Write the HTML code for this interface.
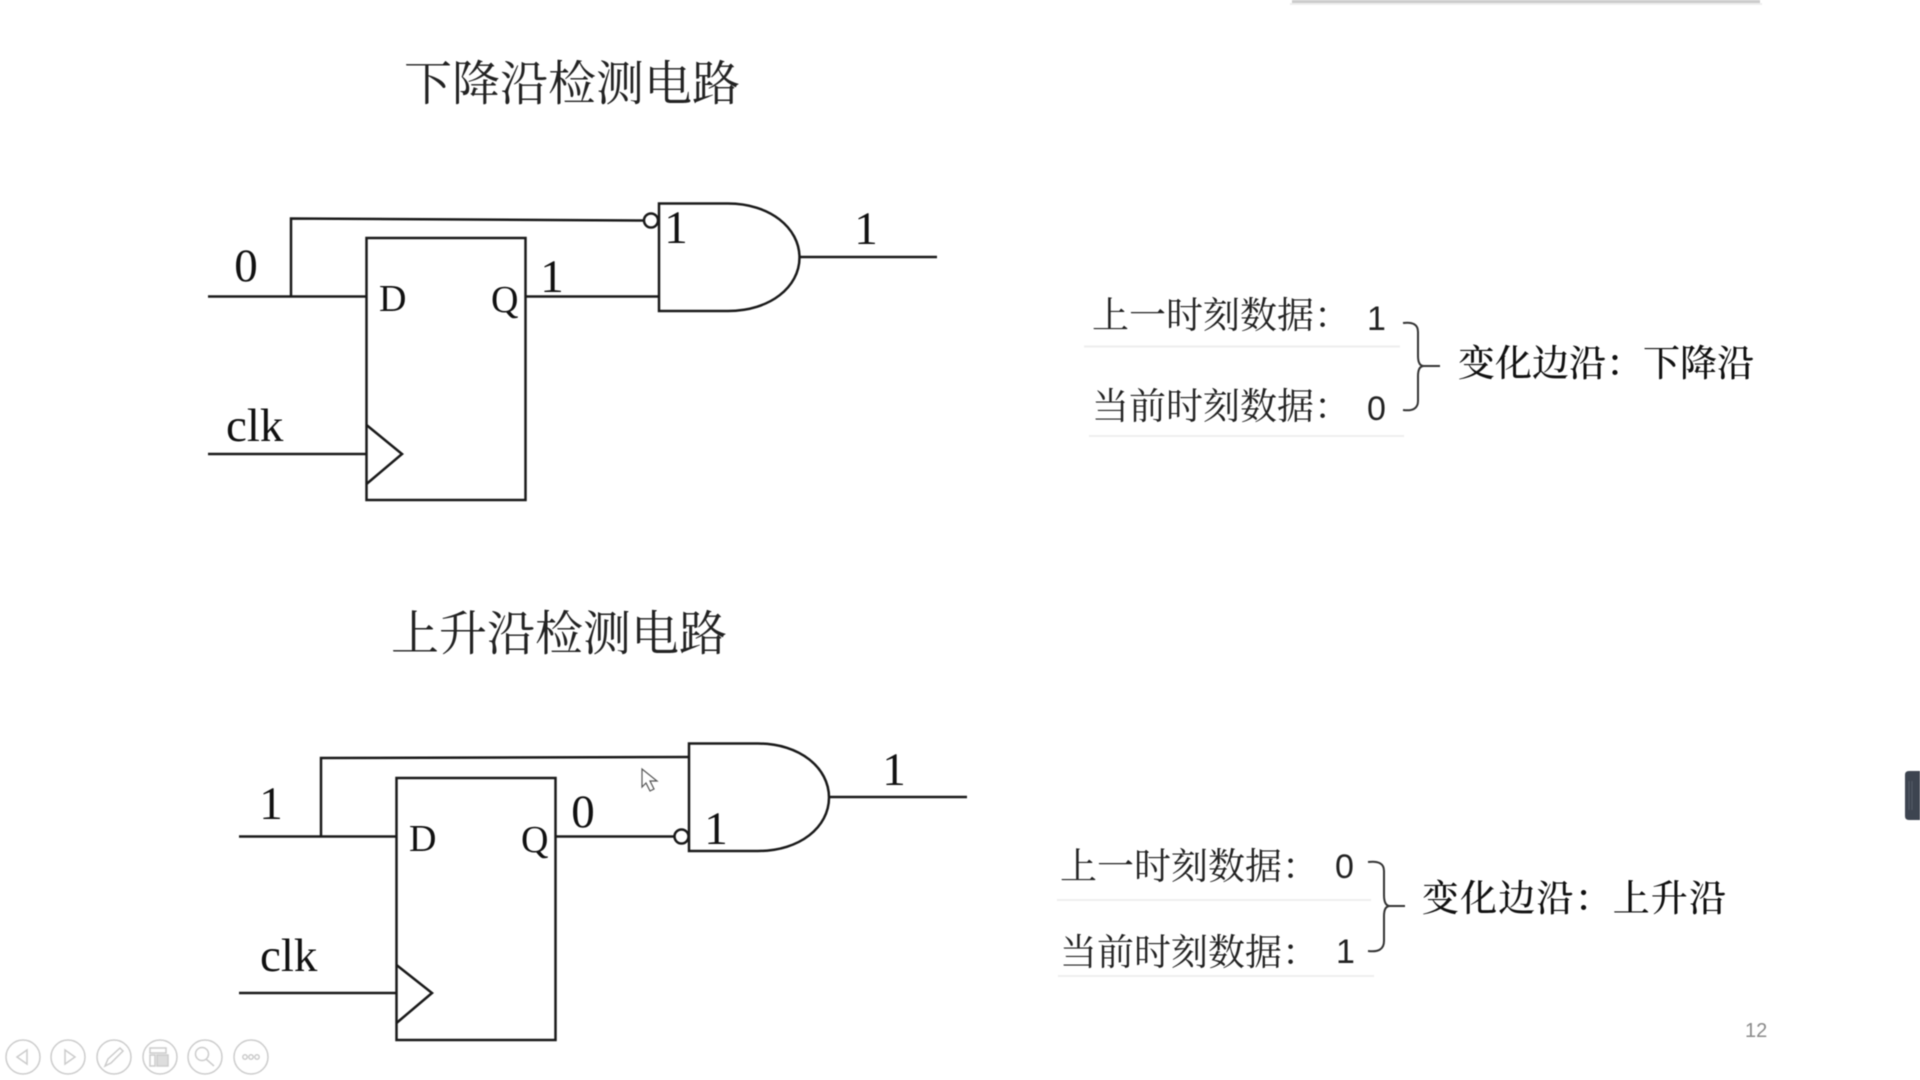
<!DOCTYPE html>
<html><head><meta charset="utf-8"><style>
html,body{margin:0;padding:0;background:#fff;width:1920px;height:1080px;overflow:hidden}
svg{display:block;filter:blur(0.4px)}
.w{font-family:"Liberation Serif",serif;fill:#111}
.t{font-family:"Liberation Serif","Noto Serif CJK SC",serif;font-size:48px;fill:#222}
.c{font-family:"Liberation Sans","Noto Serif CJK SC",serif;font-size:37px;fill:#222}
.b{font-family:"Liberation Sans","Noto Serif CJK SC",serif;font-size:37px;fill:#111;font-weight:500}
.n{font-family:"Liberation Sans",sans-serif;font-size:34px;fill:#222}
.l{stroke:#1a1a1a;stroke-width:2.5;fill:none}
.g{stroke:#eee;stroke-width:2;fill:none}
.br{stroke:#333;stroke-width:2;fill:none}
.ic{stroke:#ccc;stroke-width:1.5;fill:none}
</style></head><body>
<svg width="1920" height="1080" viewBox="0 0 1920 1080" xmlns="http://www.w3.org/2000/svg">
<rect x="1292" y="0" width="468" height="3" fill="#ccc"/>
<rect x="1290" y="3" width="472" height="2" fill="#eee"/>

<text class="t" x="404" y="100">下降沿检测电路</text>
<text class="t" x="391" y="650">上升沿检测电路</text>

<!-- top circuit -->
<rect class="l" x="366.500" y="238" width="159" height="262"/>
<path class="l" d="M208 296.500H366M291 296.500V218.500L643 220.500M526 296.500H659M208 454H366"/>
<path class="l" d="M366.500 425L402 454L366.500 484"/>
<circle class="l" cx="651" cy="220.500" r="7" fill="#fff"/>
<path class="l" d="M659 203.500H728C770 203.500 799.500 228 799.500 257.500C799.500 287 770 311 728 311H659Z"/>
<path class="l" d="M800 257H937"/>
<text class="w" font-size="47" x="246" y="281" text-anchor="middle">0</text>
<text class="w" font-size="47" x="226" y="441">clk</text>
<text class="w" font-size="38" x="379" y="311">D</text>
<text class="w" font-size="38" x="491" y="312">Q</text>
<text class="w" font-size="47" x="552" y="292" text-anchor="middle">1</text>
<text class="w" font-size="47" x="676" y="243" text-anchor="middle">1</text>
<text class="w" font-size="47" x="866" y="244" text-anchor="middle">1</text>

<!-- bottom circuit -->
<rect class="l" x="396.500" y="778" width="159" height="262"/>
<path class="l" d="M239 836.500H396M321 836.500V758L689 757M556 836.500H674M239 993H396"/>
<path class="l" d="M396.500 965L432 993L396.500 1023"/>
<circle class="l" cx="681.500" cy="836.500" r="7" fill="#fff"/>
<path class="l" d="M689 743.500H758C800 743.500 829 768 829 797.500C829 827 800 851 758 851H689Z"/>
<path class="l" d="M829 797H967"/>
<text class="w" font-size="47" x="271" y="819" text-anchor="middle">1</text>
<text class="w" font-size="47" x="260" y="971">clk</text>
<text class="w" font-size="38" x="409" y="851">D</text>
<text class="w" font-size="38" x="521" y="852">Q</text>
<text class="w" font-size="47" x="583" y="827" text-anchor="middle">0</text>
<text class="w" font-size="47" x="716" y="844" text-anchor="middle">1</text>
<text class="w" font-size="47" x="894" y="785" text-anchor="middle">1</text>

<!-- cursor -->
<path d="M642 769V787L646 783L650 791L654 789L650 781L657 781Z" fill="#fff" stroke="#555" stroke-width="1.2"/>

<!-- top right text -->
<text class="c" x="1092" y="328">上一时刻数据：</text>
<text class="n" x="1367" y="330">1</text>
<path class="g" d="M1084 346.500H1400"/>
<text class="c" x="1092" y="419">当前时刻数据：</text>
<text class="n" x="1367" y="420">0</text>
<path class="g" d="M1089 436H1404"/>
<path class="br" d="M1403 323Q1418 321 1418 332V356Q1418 366 1424 366H1440M1424 366Q1418 366 1418 376V401Q1418 412 1403 410"/>
<text class="b" x="1458" y="376">变化边沿：下降沿</text>

<!-- bottom right text -->
<text class="c" x="1060" y="879">上一时刻数据：</text>
<text class="n" x="1335" y="878">0</text>
<path class="g" d="M1057 900H1371"/>
<text class="c" x="1060" y="965">当前时刻数据：</text>
<text class="n" x="1336" y="963">1</text>
<path class="g" d="M1058 976H1374"/>
<path class="br" d="M1368 862Q1384 860 1384 871V895Q1384 906 1390 906H1405M1390 906Q1384 906 1384 916V941Q1384 953 1368 951"/>
<text class="b" x="1422" y="911" textLength="304">变化边沿：上升沿</text>

<text x="1745" y="1037" font-family="Liberation Sans,sans-serif" font-size="20" fill="#8a8a8a">12</text>

<!-- slideshow toolbar -->
<g class="ic">
<circle cx="23" cy="1057" r="17"/><path d="M27 1050L17 1057L27 1064Z"/>
<circle cx="68" cy="1057" r="17"/><path d="M65 1050L75 1057L65 1064Z"/>
<circle cx="114" cy="1057" r="17"/><path d="M105 1066L108 1059L120 1048L123 1051L111 1063Z"/>
<circle cx="160" cy="1057" r="17"/><path d="M150 1048H166V1053H150ZM150 1055H155V1066H150Z"/><rect x="157" y="1055" width="11" height="11" fill="#ddd"/>
<circle cx="205" cy="1057" r="17"/><circle cx="202" cy="1054" r="6.500"/><path d="M206 1059L214 1066"/>
<circle cx="251" cy="1057" r="17"/><circle cx="245" cy="1057" r="2.200"/><circle cx="251" cy="1057" r="2.200"/><circle cx="257" cy="1057" r="2.200"/>
</g>

<!-- side tab -->
<path d="M1920 771H1909Q1905 771 1905 775V816Q1905 820 1909 820H1920Z" fill="#3d4450"/>
<path d="M1909 781V810M1912 781V810" stroke="#555c68" stroke-width="1"/>
</svg>
</body></html>
